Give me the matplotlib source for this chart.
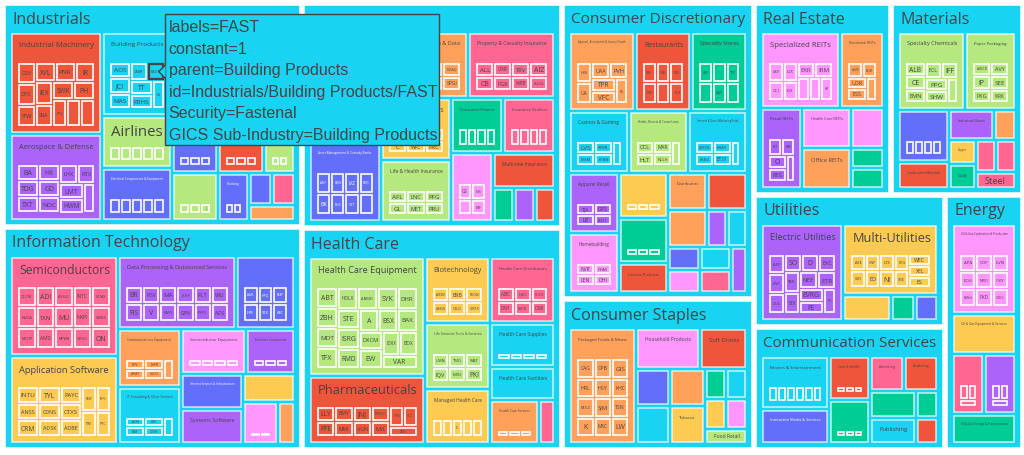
import matplotlib
matplotlib.use("Agg")
import matplotlib.pyplot as plt
from matplotlib.patches import Rectangle, Polygon
from matplotlib.textpath import TextPath
from matplotlib.font_manager import FontProperties

W, H, DPI = 1024, 455, 100

# plotly default colorway
BLUE, RED, GREEN, PURPLE, ORANGE = "#636efa", "#EF553B", "#00cc96", "#ab63fa", "#FFA15A"
CYAN, PINK, LGREEN, LPINK, YELLOW = "#19d3f3", "#FF6692", "#B6E880", "#FF97FF", "#FECB52"

# ---- data: sector -> sub-industry -> tickers (each ticker counts 1) ----
industrials = {
    "Industrial Machinery": ["DOV", "OTIS", "ITW", "XYL", "PNR", "IR", "IEX", "SNA", "SWK", "PH", "FTV", "NDSN", "GNRC"],
    "Aerospace & Defense": ["BA", "TDG", "TXT", "HII", "GD", "NOC", "LHX", "RTX", "LMT", "HWM", "TDY"],
    "Building Products": ["AOS", "JCI", "MAS", "CARR", "FAST", "TT", "FBHS", "LII"],
    "Airlines": ["AAL", "ALK", "DAL", "LUV", "UAL"],
    "Electrical Components & Equipment": ["AME", "EMR", "ETN", "ROK", "AYI"],
    "Industrial Conglomerates": ["MMM", "GE", "HON", "ROP"],
    "Railroads": ["CSX", "KSU", "NSC", "UNP"],
    "Air Freight & Logistics": ["CHRW", "EXPD", "FDX", "UPS"],
    "Research & Consulting Services": ["EFX", "INFO", "NLSN", "VRSK"],
    "Construction Machinery & Heavy Trucks": ["CAT", "CMI", "PCAR"],
    "Diversified Support Services": ["CTAS", "CPRT", "J"],
    "Environmental & Facilities Services": ["RSG", "WM", "ROL"],
    "Human Resource & Employment Services": ["RHI", "ADP"],
    "Trucking": ["JBHT", "ODFL"],
    "Agricultural & Farm Machinery": ["DE"],
    "Security & Alarm Services": ["ALLE"],
    "Trading Companies & Distributors": ["URI"],
}
information_technology = {
    "Semiconductors": ["QCOM", "NVDA", "MCHP", "ADI", "TXN", "AMD", "AVGO", "INTC", "XLNX", "MU", "MPWR", "NXPI", "SWKS", "QRVO", "ON"],
    "Application Software": ["INTU", "ANSS", "CRM", "TYL", "CDNS", "ADSK", "PAYC", "CTXS", "ADBE", "NOW", "SNPS", "FTNT", "PTC"],
    "Data Processing & Outsourced Services": ["BR", "FIS", "FISV", "V", "MA", "PAYX", "JKHY", "GPN", "FLT", "WU", "PYPL", "ADS"],
    "Technology Hardware, Storage & Peripherals": ["AAPL", "HPE", "HPQ", "NTAP", "STX", "WDC"],
    "Communications Equipment": ["FFIV", "ANET", "JNPR", "CSCO", "MSI"],
    "IT Consulting & Other Services": ["ACN", "IBM", "DXC", "CTSH", "IT"],
    "Semiconductor Equipment": ["AMAT", "KLAC", "LRCX", "TER"],
    "Electronic Components": ["APH", "GLW", "TEL"],
    "Internet Services & Infrastructure": ["AKAM", "VRSN", "EPAM"],
    "Systems Software": ["MSFT", "ORCL", "NLOK"],
    "Electronic Manufacturing Services": ["JBL", "IPGP"],
    "Electronic Equipment & Instruments": ["KEYS", "ZBRA"],
    "Technology Distributors": ["CDW"],
}
financials = {
    "Regional Banks": ["CFG", "FITB", "HBAN", "KEY", "MTB", "PNC", "RF", "SIVB", "TFC", "ZION", "CMA"],
    "Asset Management & Custody Banks": ["AMP", "BK", "BEN", "BLK", "IVZ", "NTRS", "STT", "TROW"],
    "Financial Exchanges & Data": ["CBOE", "CME", "ICE", "MCO", "MKTX", "MSCI", "NDAQ", "SPGI"],
    "Property & Casualty Insurance": ["ALL", "CB", "CINF", "PGR", "TRV", "WRB", "AIZ", "ACGL"],
    "Diversified Banks": ["BAC", "C", "JPM", "WFC", "USB", "FRC"],
    "Life & Health Insurance": ["AFL", "GL", "LNC", "MET", "PFG", "PRU"],
    "Consumer Finance": ["AXP", "COF", "DFS", "SYF"],
    "Insurance Brokers": ["AJG", "AON", "MMC", "WLTW"],
    "Investment Banking & Brokerage": ["GS", "MS", "SCHW", "RJF"],
    "Multi-line Insurance": ["AIG", "HIG", "L"],
    "Reinsurance": ["RE"],
    "Multi-Sector Holdings": ["BRK.B"],
    "Thrifts & Mortgage Finance": ["PBCT"],
}
health_care = {
    "Health Care Equipment": ["ABT", "ZBH", "MDT", "TFX", "HOLX", "ABMD", "SYK", "DHR", "STE", "ISRG",
                              "RMD", "A", "BSX", "BAX", "DXCM", "EW", "IDXX", "BDX", "VAR"],
    "Pharmaceuticals": ["LLY", "PFE", "BMY", "MRK", "JNJ", "AGN", "PRGO", "MYL", "VTRS", "CTLT", "ZTS"],
    "Biotechnology": ["ABBV", "AMGN", "BIIB", "GILD", "REGN", "VRTX"],
    "Health Care Distributors": ["ABC", "CAH", "HSIC", "MCK", "PDCO", "OMI"],
    "Life Sciences Tools & Services": ["ILMN", "IQV", "TMO", "MTD", "WAT", "PKI"],
    "Managed Health Care": ["ANTM", "CNC", "CI", "HUM", "UNH"],
    "Health Care Supplies": ["ALGN", "COO", "XRAY", "WST"],
    "Health Care Facilities": ["UHS", "HCA", "DVA"],
    "Health Care Services": ["CVS", "LH", "DGX"],
    "Health Care Technology": ["CERN"],
}
consumer_discretionary = {
    "Apparel, Accessories & Luxury Goods": ["HBI", "UA", "UAA", "PVH", "TPR", "VFC", "RL"],
    "Restaurants": ["CMG", "DPZ", "DRI", "MCD", "SBUX", "YUM"],
    "Specialty Stores": ["BBY", "TSCO", "ULTA", "TIF", "AAP", "ORLY"],
    "Casinos & Gaming": ["LVS", "MGM", "WYNN", "PENN", "CZR"],
    "Hotels, Resorts & Cruise Lines": ["CCL", "HLT", "MAR", "NCLH", "RCL"],
    "Internet & Direct Marketing Retail": ["AMZN", "BKNG", "EBAY", "ETSY", "EXPE"],
    "Apparel Retail": ["TJX", "LB", "GPS", "ROST"],
    "Homebuilding": ["NVR", "LEN", "PHM", "DHI"],
    "Automobile Manufacturers": ["GM", "F", "TSLA"],
    "General Merchandise Stores": ["DG", "DLTR", "TGT"],
    "Leisure Products": ["HAS", "MAT"],
    "Distributors": ["GPC", "LKQ"],
    "Home Improvement Retail": ["HD", "LOW"],
    "Auto Parts & Equipment": ["APTV", "BWA"],
    "Footwear": ["NKE"],
    "Department Stores": ["KSS"],
    "Household Appliances": ["WHR"],
    "Home Furnishings": ["MHK"],
    "Consumer Electronics": ["GRMN"],
    "Housewares & Specialties": ["NWL"],
    "Motorcycle Manufacturers": ["HOG"],
}
consumer_staples = {
    "Packaged Foods & Meats": ["CAG", "CPB", "GIS", "HRL", "HSY", "KHC", "MDLZ", "K", "SJM", "TSN", "MKC", "LW"],
    "Household Products": ["CL", "CLX", "KMB", "PG"],
    "Soft Drinks": ["KO", "PEP", "MNST"],
    "Hypermarkets & Super Centers": ["COST", "WMT"],
    "Agricultural Products": ["ADM", "BG"],
    "Distillers & Vintners": ["BF.B", "STZ"],
    "Tobacco": ["MO", "PM"],
    "Brewers": ["TAP"],
    "Drug Retail": ["WBA"],
    "Food Distributors": ["SYY"],
    "Personal Products": ["EL"],
    "Food Retail": ["KR"],
}
real_estate = {
    "Specialized REITs": ["AMT", "CCI", "DLR", "EQIX", "EXR", "IRM", "PSA", "SBAC", "WY"],
    "Residential REITs": ["AVB", "EQR", "UDR", "ESS", "MAA"],
    "Retail REITs": ["FRT", "KIM", "O", "REG", "SPG"],
    "Health Care REITs": ["PEAK", "VTR", "WELL"],
    "Office REITs": ["ARE", "BXP", "SLG"],
    "Hotel & Resort REITs": ["HST", "PK"],
    "Industrial REITs": ["PLD"],
    "Real Estate Services": ["CBRE"],
}
materials = {
    "Specialty Chemicals": ["ALB", "CE", "EMN", "ECL", "IFF", "PPG", "SHW", "DD"],
    "Paper Packaging": ["AMCR", "AVY", "IP", "PKG", "SEE", "WRK"],
    "Fertilizers & Agricultural Chemicals": ["CF", "CTVA", "FMC", "MOS"],
    "Construction Materials": ["MLM", "VMC"],
    "Industrial Gases": ["APD", "LIN"],
    "Commodity Chemicals": ["LYB"],
    "Copper": ["FCX"],
    "Gold": ["NEM"],
    "Metal & Glass Containers": ["BLL"],
    "Diversified Chemicals": ["DOW"],
    "Steel": ["NUE"],
}
utilities = {
    "Electric Utilities": ["AEP", "LNT", "DUK", "SO", "D", "EXC", "PNW", "EIX", "NEE", "ETR", "EVRG", "FE", "PPL"],
    "Multi-Utilities": ["AEE", "CMS", "CNP", "ED", "DTE", "NI", "PEG", "SRE", "WEC", "XEL", "ES"],
    "Independent Power Producers & Energy Traders": ["AES", "NRG"],
    "Water Utilities": ["AWK"],
    "Gas Utilities": ["ATO"],
}
communication_services = {
    "Movies & Entertainment": ["DIS", "NFLX", "VIAC", "FOX", "FOXA", "LYV"],
    "Interactive Media & Services": ["GOOGL", "GOOG", "FB", "TWTR"],
    "Cable & Satellite": ["CMCSA", "CHTR", "DISH"],
    "Integrated Telecommunication Services": ["T", "VZ", "CTL"],
    "Advertising": ["IPG", "OMC"],
    "Broadcasting": ["DISCA", "DISCK"],
    "Interactive Home Entertainment": ["ATVI", "EA"],
    "Publishing": ["NWS", "NWSA"],
    "Wireless Telecommunication Services": ["TMUS"],
    "Alternative Carriers": ["LUMN"],
}
energy = {
    "Oil & Gas Exploration & Production": ["APA", "COP", "DVN", "EOG", "FANG", "MRO", "OXY", "PXD", "CXO"],
    "Oil & Gas Equipment & Services": ["BKR", "HAL", "NOV", "SLB"],
    "Oil & Gas Refining & Marketing": ["MPC", "PSX", "VLO"],
    "Integrated Oil & Gas": ["CVX", "XOM", "HES"],
    "Oil & Gas Storage & Transportation": ["KMI", "OKE", "WMB"],
}

sectors = ["Industrials", "Information Technology", "Financials", "Health Care",
           "Consumer Discretionary", "Consumer Staples", "Real Estate", "Materials",
           "Utilities", "Communication Services", "Energy"]
sector_subs = [industrials, information_technology, financials, health_care,
               consumer_discretionary, consumer_staples, real_estate, materials,
               utilities, communication_services, energy]

hover_ticker = "FAST"
hover_security = "Fastenal"

# ---- colours (style) ----
sub_colors = {
    "Industrial Machinery": RED, "Aerospace & Defense": PURPLE, "Building Products": CYAN,
    "Airlines": LGREEN, "Electrical Components & Equipment": BLUE, "Industrial Conglomerates": ORANGE,
    "Railroads": PINK, "Air Freight & Logistics": LPINK, "Research & Consulting Services": YELLOW,
    "Construction Machinery & Heavy Trucks": BLUE, "Diversified Support Services": LGREEN,
    "Environmental & Facilities Services": RED, "Human Resource & Employment Services": LGREEN,
    "Trucking": BLUE, "Agricultural & Farm Machinery": BLUE, "Security & Alarm Services": PINK,
    "Trading Companies & Distributors": ORANGE,
    "Semiconductors": PINK, "Application Software": YELLOW, "Data Processing & Outsourced Services": PURPLE,
    "Technology Hardware, Storage & Peripherals": BLUE, "Communications Equipment": ORANGE,
    "IT Consulting & Other Services": CYAN, "Semiconductor Equipment": LPINK, "Electronic Components": PURPLE,
    "Internet Services & Infrastructure": BLUE, "Systems Software": PURPLE,
    "Electronic Manufacturing Services": YELLOW, "Electronic Equipment & Instruments": LPINK,
    "Technology Distributors": ORANGE,
    "Regional Banks": GREEN, "Asset Management & Custody Banks": BLUE, "Financial Exchanges & Data": ORANGE,
    "Property & Casualty Insurance": PINK, "Diversified Banks": YELLOW, "Life & Health Insurance": LGREEN,
    "Consumer Finance": GREEN, "Insurance Brokers": PINK, "Investment Banking & Brokerage": LPINK,
    "Multi-line Insurance": RED, "Reinsurance": GREEN, "Multi-Sector Holdings": PURPLE,
    "Thrifts & Mortgage Finance": RED,
    "Health Care Equipment": LGREEN, "Pharmaceuticals": RED, "Biotechnology": YELLOW,
    "Health Care Distributors": PINK, "Life Sciences Tools & Services": LGREEN, "Managed Health Care": YELLOW,
    "Health Care Supplies": CYAN, "Health Care Facilities": CYAN, "Health Care Services": ORANGE,
    "Health Care Technology": PINK,
    "Apparel, Accessories & Luxury Goods": ORANGE, "Restaurants": RED, "Specialty Stores": GREEN,
    "Casinos & Gaming": CYAN, "Hotels, Resorts & Cruise Lines": LGREEN,
    "Internet & Direct Marketing Retail": CYAN, "Apparel Retail": PURPLE, "Homebuilding": LPINK,
    "Automobile Manufacturers": YELLOW, "General Merchandise Stores": GREEN, "Leisure Products": RED,
    "Distributors": ORANGE, "Home Improvement Retail": RED, "Auto Parts & Equipment": ORANGE,
    "Footwear": PURPLE, "Department Stores": CYAN, "Household Appliances": BLUE, "Home Furnishings": LPINK,
    "Consumer Electronics": CYAN, "Housewares & Specialties": PINK, "Motorcycle Manufacturers": PURPLE,
    "Packaged Foods & Meats": ORANGE, "Household Products": LPINK, "Soft Drinks": RED,
    "Hypermarkets & Super Centers": BLUE, "Agricultural Products": CYAN, "Distillers & Vintners": ORANGE,
    "Tobacco": YELLOW, "Brewers": GREEN, "Drug Retail": CYAN, "Food Distributors": YELLOW,
    "Personal Products": LPINK, "Food Retail": LGREEN,
    "Specialized REITs": LPINK, "Residential REITs": ORANGE, "Retail REITs": PURPLE,
    "Health Care REITs": LPINK, "Office REITs": ORANGE, "Hotel & Resort REITs": LPINK,
    "Industrial REITs": GREEN, "Real Estate Services": GREEN,
    "Specialty Chemicals": LGREEN, "Paper Packaging": LGREEN, "Fertilizers & Agricultural Chemicals": BLUE,
    "Construction Materials": RED, "Industrial Gases": PURPLE, "Commodity Chemicals": ORANGE,
    "Copper": YELLOW, "Gold": GREEN, "Metal & Glass Containers": PINK, "Diversified Chemicals": PINK,
    "Steel": PINK,
    "Electric Utilities": PURPLE, "Multi-Utilities": YELLOW,
    "Independent Power Producers & Energy Traders": YELLOW, "Water Utilities": GREEN, "Gas Utilities": BLUE,
    "Movies & Entertainment": CYAN, "Interactive Media & Services": BLUE, "Cable & Satellite": RED,
    "Integrated Telecommunication Services": GREEN, "Advertising": PINK, "Broadcasting": RED,
    "Interactive Home Entertainment": GREEN, "Publishing": CYAN,
    "Wireless Telecommunication Services": GREEN, "Alternative Carriers": RED,
    "Oil & Gas Exploration & Production": LPINK, "Oil & Gas Equipment & Services": YELLOW,
    "Oil & Gas Refining & Marketing": PINK, "Integrated Oil & Gas": PURPLE,
    "Oil & Gas Storage & Transportation": GREEN,
}
SECTOR_COLOR = CYAN

label_fp = FontProperties(family="Open Sans")
tip_fp = FontProperties(family="Liberation Sans")
_em_cache = {}


def em_width(s, fp=label_fp):
    # ink width of the string at font size 1
    key = (s, fp.get_family()[0])
    if key not in _em_cache:
        _em_cache[key] = TextPath((0, 0), s, size=1, prop=fp).get_extents().width
    return _em_cache[key]


def text_color(c):
    r, g, b = int(c[1:3], 16), int(c[3:5], 16), int(c[5:7], 16)
    return "#444444" if (r * 299 + g * 587 + b * 114) / 1000 > 128 else "#ffffff"


def squarify(values, x0, y0, x1, y1):
    # d3 treemapSquarify, ratio 1
    out = [None] * len(values)
    n = len(values)
    total = float(sum(values))
    i0 = 0
    while i0 < n:
        dx, dy = x1 - x0, y1 - y0
        if dx <= 0 or dy <= 0 or total <= 0:
            for j in range(i0, n):
                out[j] = (x0, y0, x0, y0)
            break
        i1 = i0
        s = values[i1]
        i1 += 1
        vmin = vmax = s
        alpha = max(dy / dx, dx / dy) / total
        beta = s * s * alpha
        best = max(vmax / beta, beta / vmin)
        while i1 < n:
            v = values[i1]
            s2 = s + v
            lo, hi = min(vmin, v), max(vmax, v)
            beta = s2 * s2 * alpha
            r = max(hi / beta, beta / lo)
            if r > best:
                break
            s, vmin, vmax, best = s2, lo, hi, r
            i1 += 1
        if dx < dy:
            ny = y0 + dy * s / total
            xx = x0
            for j in range(i0, i1):
                w = dx * values[j] / s
                out[j] = (xx, y0, xx + w, ny)
                xx += w
            y0 = ny
        else:
            nx = x0 + dx * s / total
            yy = y0
            for j in range(i0, i1):
                h = dy * values[j] / s
                out[j] = (x0, yy, nx, yy + h)
                yy += h
            x0 = nx
        total -= s
        i0 = i1
    return out


def tile(rect, values, pad, gap):
    x0, y0, x1, y1 = rect
    L, T, R, B = pad
    g = gap / 2.0
    rx0, ry0, rx1, ry1 = x0 + L - g, y0 + T - g, x1 - R + g, y1 - B + g
    if rx1 < rx0:
        rx0 = rx1 = (rx0 + rx1) / 2
    if ry1 < ry0:
        ry0 = ry1 = (ry0 + ry1) / 2
    order = sorted(range(len(values)), key=lambda i: -values[i])
    cells = squarify([values[i] for i in order], rx0, ry0, rx1, ry1)
    res = [None] * len(values)
    for k, (a, b, c, d) in zip(order, cells):
        a, b, c, d = a + g, b + g, c - g, d - g
        if c < a:
            a = c = (a + c) / 2
        if d < b:
            b = d = (b + d) / 2
        res[k] = (a, b, c, d)
    return res


ROOT_PAD = (5, 5, 4, 8)
SECTOR_PAD = (7, 29, 6, 5)
SUB_PAD = (7, 30, 7, 7)

# ---- layout pass ----
layout = []
hover_rect = hover_parent = None
sector_vals = [sum(len(t) for t in d.values()) for d in sector_subs]
for name, subs, srect in zip(sectors, sector_subs, tile((0, 0, W, H), sector_vals, ROOT_PAD, 5)):
    sub_names = list(subs.keys())
    sub_items = []
    for sub, rr in zip(sub_names, tile(srect, [len(subs[k]) for k in sub_names], SECTOR_PAD, 4)):
        leaves = list(zip(subs[sub], tile(rr, [1] * len(subs[sub]), SUB_PAD, 3)))
        for t, lr in leaves:
            if t == hover_ticker:
                hover_rect, hover_parent = lr, (name, sub)
        sub_items.append((sub, rr, leaves))
    layout.append((name, srect, sub_items))

# hover label geometry
tip_lines = ["labels=" + hover_ticker, "constant=1", "parent=" + hover_parent[1],
             "id=" + hover_parent[0] + "/" + hover_parent[1] + "/" + hover_ticker,
             "Security=" + hover_security, "GICS Sub-Industry=" + hover_parent[1]]
TIP_PX = 16
TIP_LH = 21.6
tip_x = hover_rect[2] - 4
tip_y = (hover_rect[1] + hover_rect[3]) / 2
bx0, by0 = tip_x + 6, 14
bw = max(em_width(s, tip_fp) for s in tip_lines) * TIP_PX + 8
bh = TIP_LH * len(tip_lines) + 1


def under_tip(x, y):
    return bx0 - 2 <= x <= bx0 + bw + 2 and by0 <= y <= by0 + bh


# ---- drawing pass ----
fig = plt.figure(figsize=(W / DPI, H / DPI), dpi=DPI)
ax = fig.add_axes([0, 0, 1, 1])
ax.set_xlim(0, W)
ax.set_ylim(H, 0)
ax.axis("off")


def box(r, fc, ec, lw, z):
    ax.add_patch(Rectangle((r[0], r[1]), r[2] - r[0], r[3] - r[1], facecolor=fc,
                           edgecolor=ec, linewidth=lw, zorder=z))


def header(r, text, fc, max_px):
    w, h = r[2] - r[0], r[3] - r[1]
    px = min(max_px, (w - 14) / em_width(text), h - 3)
    if px < 2.5:
        return
    base = r[1] + 7.5 + 0.714 * px
    if base > r[3] - 2:
        base = r[1] + (h + 0.714 * px) / 2
    if under_tip(r[0] + 7, base) and under_tip(r[0] + 7 + px * em_width(text), base):
        return
    ax.text(r[0] + 7, base, text, fontsize=px * 72 / DPI, fontproperties=label_fp,
            color=text_color(fc), ha="left", va="baseline", zorder=6)


def leaf_label(r, text, fc):
    w, h = r[2] - r[0], r[3] - r[1]
    px = min(7, (w - 5) / em_width(text), (h - 4) / 0.8)
    if px < 2.5:
        return
    cx, cy = (r[0] + r[2]) / 2, (r[1] + r[3]) / 2
    if under_tip(cx, cy):
        return
    ax.text(cx, cy + 0.357 * px, text, fontsize=px * 72 / DPI, fontproperties=label_fp,
            color=text_color(fc), ha="center", va="baseline", zorder=6)


for name, srect, sub_items in layout:
    box(srect, SECTOR_COLOR, (1, 1, 1, 0.55), 0.7, 1)
    header(srect, name, SECTOR_COLOR, 16)
    for sub, rr, leaves in sub_items:
        fc = sub_colors[sub]
        box(rr, fc, (1, 1, 1, 0.75), 1.1, 2)
        header(rr, sub, fc, 16)
        for t, lr in leaves:
            if lr[2] - lr[0] < 1 or lr[3] - lr[1] < 1:
                continue
            box(lr, fc, "white", 1.2, 3)
            leaf_label(lr, t, fc)

# hovered leaf + hover label
box(hover_rect, "none", "#444444", 1.6, 4)
ax.add_patch(Rectangle((bx0, by0), bw, bh, facecolor=CYAN, edgecolor="#444444",
                       linewidth=1.0, zorder=10))
ax.add_patch(Polygon([(bx0 + 0.8, tip_y - 6), (tip_x, tip_y), (bx0 + 0.8, tip_y + 6)],
                     closed=True, facecolor=CYAN, edgecolor="none", zorder=11))
ax.plot([bx0, tip_x, bx0], [tip_y - 6, tip_y, tip_y + 6], color="#444444", lw=1.0, zorder=11)
for i, s in enumerate(tip_lines):
    ax.text(bx0 + 4, by0 + 18 + i * TIP_LH, s, fontsize=TIP_PX * 72 / DPI, fontproperties=tip_fp,
            color="#444444", ha="left", va="baseline", zorder=12)

fig.savefig("out.png", dpi=DPI)
